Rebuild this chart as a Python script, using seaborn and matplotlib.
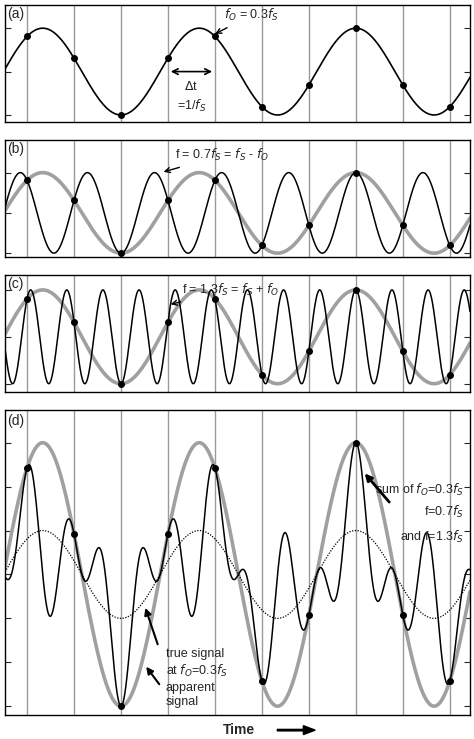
import numpy as np
import matplotlib
matplotlib.use("Agg")
import matplotlib.pyplot as plt
import seaborn as sns

sns.set_style("white")
plt.rcParams['font.family'] = ['Liberation Sans', 'DejaVu Sans']

# frequencies in units of the sampling frequency fs
f_true = 0.3
f_alias = [0.7, 1.3]
sample_times = np.arange(0, 10)          # sample index n (dt = 1/fs)
t = np.linspace(-0.47, 9.43, 2000)
panel_labels = ["(a)", "(b)", "(c)", "(d)"]


def wave(f, tt):
    return -np.cos(2 * np.pi * f * (tt - 2))


fig = plt.figure(figsize=(4.74, 7.39), dpi=100)
boxes = [(0.835, 0.158), (0.652, 0.158), (0.470, 0.158), (0.0325, 0.413)]
axes = [fig.add_axes([0.0105, b, 0.981, h]) for b, h in boxes]

grey = "#a0a0a0"
for i, ax in enumerate(axes):
    for n in sample_times:
        ax.axvline(n, color="#9a9a9a", lw=1.0, zorder=0)
    ax.set_xlim(t[0], t[-1])
    ax.set_xticks([])
    for s in ax.spines.values():
        s.set_color("black")
        s.set_linewidth(1.0)
    ax.tick_params(axis="y", direction="in", length=4, left=True, right=True,
                   labelleft=False)
    ax.text(0.005, 0.985, panel_labels[i], transform=ax.transAxes,
            ha="left", va="top", fontsize=10)

# (a)
ax = axes[0]
sns.lineplot(x=t, y=wave(f_true, t), ax=ax, color="black", lw=1.2)
ax.plot(sample_times, wave(f_true, sample_times), "o", color="black", ms=4)
ax.set_ylim(-1.16, 1.53)
ax.set_yticks([-1, 0, 1])
ax.annotate(r"$f_O$ = 0.3$f_S$", xy=(3.95, 0.84), xytext=(4.2, 1.3),
            fontsize=9, va="center",
            arrowprops=dict(arrowstyle="->", color="black", lw=1))
ax.annotate("", xy=(3.0, 0.0), xytext=(4.0, 0.0),
            arrowprops=dict(arrowstyle="<->", color="black", lw=1.2))
ax.text(3.5, -0.35, r"$\Delta$t", ha="center", va="center", fontsize=9)
ax.text(3.5, -0.8, r"=1/$f_S$", ha="center", va="center", fontsize=9)

# (b), (c)
ann = [(r"f = 0.7$f_S$ = $f_S$ - $f_O$", (2.85, 1.0), (3.15, 1.43), (-1.1, 1.8)),
       (r"f = 1.3$f_S$ = $f_S$ + $f_O$", (3.0, 0.68), (3.3, 1.0), (-1.17, 1.32))]
for ax, f, (txt, xy, xyt, yl) in zip(axes[1:3], f_alias, ann):
    ax.plot(t, wave(f_true, t), color=grey, lw=2.6)
    sns.lineplot(x=t, y=wave(f, t), ax=ax, color="black", lw=1.1)
    ax.plot(sample_times, wave(f, sample_times), "o", color="black", ms=4)
    ax.set_ylim(*yl)
    ax.set_yticks([-1, 0, 1])
    ax.annotate(txt, xy=xy, xytext=xyt, fontsize=9, va="center",
                arrowprops=dict(arrowstyle="->", color="black", lw=1))

# (d)
ax = axes[3]
total = wave(f_true, t) + wave(f_alias[0], t) + wave(f_alias[1], t)
ax.plot(t, 3 * wave(f_true, t), color=grey, lw=2.6)
ax.plot(t, wave(f_true, t), color="black", lw=0.9, ls=(0, (1, 1.2)))
sns.lineplot(x=t, y=total, ax=ax, color="black", lw=1.1)
ax.plot(sample_times, 3 * wave(f_true, sample_times), "o", color="black", ms=4)
ax.set_ylim(-3.2, 3.75)
ax.set_yticks([-3, -2, -1, 0, 1, 2, 3])
ax.text(9.3, 1.93, r"sum of $f_O$=0.3$f_S$", ha="right", va="center", fontsize=9)
ax.text(9.3, 1.43, r"f=0.7$f_S$", ha="right", va="center", fontsize=9)
ax.text(9.3, 0.86, r"and f=1.3$f_S$", ha="right", va="center", fontsize=9)
ax.annotate("", xy=(7.15, 2.35), xytext=(7.75, 1.6),
            arrowprops=dict(arrowstyle="-|>", color="black", lw=2))
ax.text(2.95, -1.8, "true signal", ha="left", va="center", fontsize=9)
ax.text(2.95, -2.2, r"at $f_O$=0.3$f_S$", ha="left", va="center", fontsize=9)
ax.annotate("", xy=(2.5, -0.7), xytext=(2.8, -1.65),
            arrowprops=dict(arrowstyle="-|>", color="black", lw=1.5))
ax.text(2.95, -2.58, "apparent", ha="left", va="center", fontsize=9)
ax.text(2.95, -2.9, "signal", ha="left", va="center", fontsize=9)
ax.annotate("", xy=(2.5, -2.05), xytext=(2.85, -2.55),
            arrowprops=dict(arrowstyle="-|>", color="black", lw=1.5))

fig.text(0.47, 0.012, "Time", ha="left", va="center", fontsize=10, fontweight="bold")
fig.patches.append(matplotlib.patches.FancyArrow(
    0.585, 0.012, 0.08, 0, width=0.002, head_width=0.012, head_length=0.025,
    transform=fig.transFigure, color="black", length_includes_head=True))

fig.savefig("out.png", dpi=100)
